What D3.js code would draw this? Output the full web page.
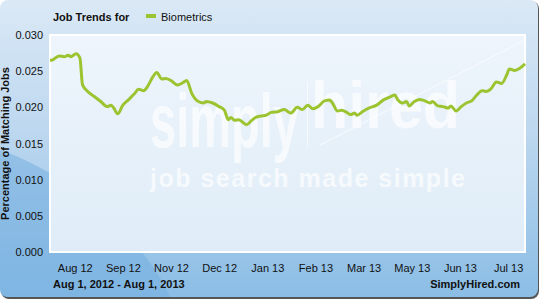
<!DOCTYPE html>
<html>
<head>
<meta charset="utf-8">
<script src="https://cdn.jsdelivr.net/npm/d3@7"></script>
<style>
  body { margin: 0; background: #fff; }
  text { font-family: "Liberation Sans", Arial, sans-serif; }
</style>
</head>
<body>
<div id="chart"></div>
<script>
const svgWidth = 540;
const svgHeight = 300;
const margin = { top: 35, right: 15, bottom: 48, left: 50 };
const width = svgWidth - margin.left - margin.right;
const height = svgHeight - margin.top - margin.bottom;

// data
const seriesName = "Biometrics";
const dates = [
  "2012-08-01","2012-08-02","2012-08-08","2012-08-12","2012-08-15","2012-08-17","2012-08-21","2012-08-24",
  "2012-08-26","2012-08-30","2012-09-04","2012-09-09","2012-09-14","2012-09-17","2012-09-19","2012-09-22",
  "2012-09-26","2012-09-30","2012-10-05","2012-10-08","2012-10-12","2012-10-15","2012-10-19","2012-10-22",
  "2012-10-26","2012-10-29","2012-11-02","2012-11-07","2012-11-11","2012-11-14","2012-11-18","2012-11-23",
  "2012-11-27","2012-11-29","2012-12-04","2012-12-09","2012-12-13","2012-12-16","2012-12-18","2012-12-21",
  "2012-12-24","2012-12-30","2013-01-03","2013-01-06","2013-01-10","2013-01-14","2013-01-18","2013-01-23",
  "2013-01-28","2013-02-02","2013-02-07","2013-02-11","2013-02-15","2013-02-19","2013-02-23","2013-02-28",
  "2013-03-04","2013-03-06","2013-03-10","2013-03-13","2013-03-17","2013-03-20","2013-03-23","2013-03-25",
  "2013-03-29","2013-04-03","2013-04-09","2013-04-14","2013-04-19","2013-04-23","2013-04-25","2013-04-29",
  "2013-05-02","2013-05-04","2013-05-08","2013-05-12","2013-05-16","2013-05-20","2013-05-22","2013-05-26",
  "2013-05-30","2013-06-03","2013-06-05","2013-06-09","2013-06-13","2013-06-17","2013-06-21","2013-06-25",
  "2013-06-29","2013-07-02","2013-07-06","2013-07-10","2013-07-14","2013-07-18","2013-07-20","2013-07-24",
  "2013-07-28","2013-08-01"
];
const values = [
  0.0265,0.0265,0.0271,0.0270,0.0272,0.0270,0.0274,0.0268,
  0.0231,0.0222,0.0215,0.0208,0.0201,0.0203,0.0199,0.0191,
  0.0203,0.0210,0.0219,0.0225,0.0223,0.0229,0.0242,0.0248,
  0.0239,0.0240,0.0237,0.0231,0.0234,0.0237,0.0219,0.0208,
  0.0206,0.0208,0.0206,0.0201,0.0196,0.0183,0.0186,0.0182,
  0.0183,0.0176,0.0182,0.0186,0.0188,0.0189,0.0193,0.0194,
  0.0197,0.0192,0.0200,0.0197,0.0203,0.0198,0.0201,0.0209,
  0.0210,0.0206,0.0195,0.0196,0.0193,0.0190,0.0192,0.0189,
  0.0194,0.0199,0.0203,0.0210,0.0214,0.0217,0.0211,0.0206,
  0.0208,0.0202,0.0208,0.0211,0.0209,0.0206,0.0208,0.0202,
  0.0201,0.0199,0.0202,0.0195,0.0201,0.0206,0.0209,0.0217,
  0.0223,0.0222,0.0226,0.0235,0.0233,0.0245,0.0253,0.0251,
  0.0254,0.0260
];
const yTicks = [0, 0.005, 0.010, 0.015, 0.020, 0.025, 0.030];
const xTickDates = ["2012-08-20","2012-09-26","2012-11-02","2012-12-09","2013-01-15",
  "2013-02-21","2013-03-30","2013-05-06","2013-06-12","2013-07-19"];
const rangeLabel = "Aug 1, 2012 - Aug 1, 2013";

const parse = d3.timeParse("%Y-%m-%d");
let data = dates.map((d, i) => ({ date: parse(d), value: values[i] }));

let svg = d3.select("#chart").append("svg").attr("width", svgWidth).attr("height", svgHeight);
let defs = svg.append("defs");

let bg = defs.append("linearGradient").attr("id", "bg").attr("x1", 0).attr("y1", 0).attr("x2", 0).attr("y2", 1);
bg.append("stop").attr("offset", "0%").attr("stop-color", "#dbe9f6");
bg.append("stop").attr("offset", "45%").attr("stop-color", "#bcd7ef");
bg.append("stop").attr("offset", "100%").attr("stop-color", "#8bbde5");

let pg = defs.append("linearGradient").attr("id", "pg").attr("x1", 0).attr("y1", 0).attr("x2", 0).attr("y2", 1);
pg.append("stop").attr("offset", "0%").attr("stop-color", "#eef5fc");
pg.append("stop").attr("offset", "100%").attr("stop-color", "#dfecf7");

// outer panel with shadow edge
svg.append("rect").attr("x", 1).attr("y", 1).attr("width", svgWidth - 2).attr("height", svgHeight - 2)
  .attr("rx", 8).attr("fill", "#555");
svg.append("rect").attr("x", 0).attr("y", 0).attr("width", svgWidth - 2).attr("height", svgHeight - 3)
  .attr("rx", 8).attr("fill", "url(#bg)");
// darker swoosh at lower left
svg.append("path")
  .attr("d", "M0,150 C60,170 140,230 170,297 L8,297 Q0,297 0,289 Z")
  .attr("fill", "#74aee0").attr("opacity", 0.55);

let chrtgrp = svg.append("g").attr("transform", `translate(${margin.left}, ${margin.top})`);

chrtgrp.append("rect").attr("width", width).attr("height", height)
  .attr("fill", "url(#pg)").attr("stroke", "#fff").attr("stroke-width", 2);
// faint diagonal highlight
chrtgrp.append("line").attr("x1", 270).attr("y1", 110).attr("x2", 475).attr("y2", 5)
  .attr("stroke", "#fff").attr("stroke-width", 1).attr("opacity", 0.7);

// watermark (glyphs stretched vertically so widths stay natural)
let wm = chrtgrp.append("g").attr("fill", "#fff").attr("opacity", 0.7);
wm.append("text").attr("transform", "translate(100, 112) scale(1, 1.6)")
  .attr("font-size", 47).attr("font-weight", "bold").text("simply");
wm.append("rect").attr("x", 257).attr("y", 47).attr("width", 1).attr("height", 65);
wm.append("text").attr("transform", "translate(261, 93) scale(1, 1.08)")
  .attr("font-size", 61).attr("font-weight", "bold").text("hired");
wm.append("text").attr("x", 100).attr("y", 152).attr("font-size", 25).attr("font-weight", "bold")
  .attr("textLength", 315).attr("lengthAdjust", "spacing").text("job search made simple");

let xlin = d3.scaleTime().domain([parse("2012-08-01"), parse("2013-08-01")]).range([0, width]);
let ylin = d3.scaleLinear().domain([0, 0.03]).range([height, 0]);

let xAxis = chrtgrp.append("g")
  .attr("transform", `translate(0, ${height})`)
  .call(d3.axisBottom(xlin).tickValues(xTickDates.map(parse)).tickFormat(d3.timeFormat("%b %y")).tickSize(0).tickPadding(12));
let yAxis = chrtgrp.append("g")
  .call(d3.axisLeft(ylin).tickValues(yTicks).tickFormat(d3.format(".3f")).tickSize(0).tickPadding(7));
[xAxis, yAxis].forEach(a => {
  a.select(".domain").remove();
  a.selectAll("text").attr("font-size", 11).attr("fill", "#111")
    .attr("font-family", "'Liberation Sans', Arial, sans-serif");
});

let line = d3.line().x(d => xlin(d.date)).y(d => ylin(d.value)).curve(d3.curveMonotoneX);
chrtgrp.append("path").datum(data)
  .attr("d", line).attr("fill", "none")
  .attr("stroke", "#9cc431").attr("stroke-width", 3).attr("stroke-linejoin", "round");

// title & legend
svg.append("text").attr("x", 53).attr("y", 21).attr("font-size", 11).attr("font-weight", "bold")
  .attr("fill", "#111").text("Job Trends for");
svg.append("rect").attr("x", 146).attr("y", 14).attr("width", 10).attr("height", 4).attr("fill", "#9cc431");
svg.append("text").attr("x", 161).attr("y", 21).attr("font-size", 11).attr("fill", "#111").text(seriesName);

// y axis title
svg.append("text").attr("transform", `translate(9, ${margin.top + height / 2}) rotate(-90)`)
  .attr("text-anchor", "middle").attr("font-size", 11).attr("font-weight", "bold").attr("fill", "#111")
  .text("Percentage of Matching Jobs");

// footer
svg.append("text").attr("x", 53).attr("y", 288).attr("font-size", 11).attr("font-weight", "bold")
  .attr("fill", "#111").text(rangeLabel);
svg.append("text").attr("x", 520).attr("y", 288).attr("text-anchor", "end").attr("font-size", 11)
  .attr("font-weight", "bold").attr("fill", "#111").text("SimplyHired.com");
</script>
</body>
</html>
